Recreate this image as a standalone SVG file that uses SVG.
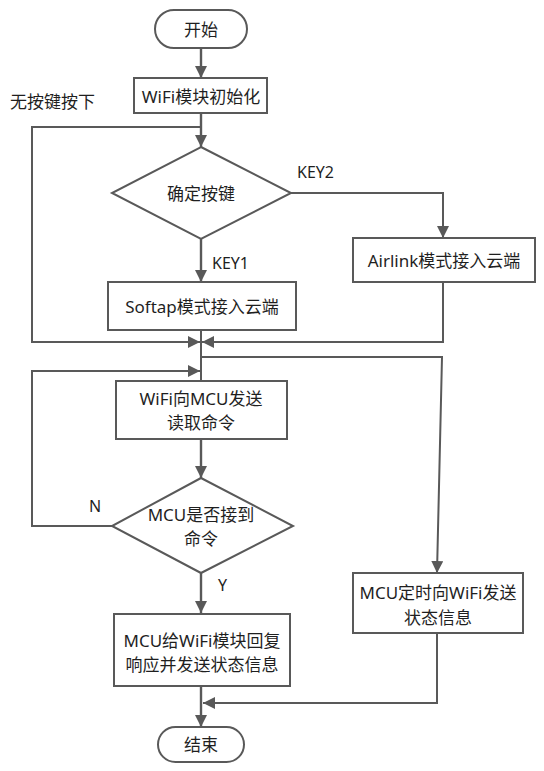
<svg xmlns="http://www.w3.org/2000/svg" width="544" height="771" viewBox="0 0 544 771">
  <style>
    .box { fill: #ffffff; stroke: #595959; stroke-width: 2; }
    .t { font-family: "Noto Sans", "Noto Sans CJK SC", sans-serif; font-size: 17px; fill: #1f1f1f; text-anchor: middle; dominant-baseline: central; }
    .lbl { font-family: "Noto Sans", "Noto Sans CJK SC", sans-serif; font-size: 16px; fill: #1f1f1f; }
    .c { fill: none; stroke: #595959; stroke-width: 2; }
    .ca { fill: none; stroke: #595959; stroke-width: 2.4; marker-end: url(#ah); }
    .cl { fill: none; stroke: #595959; stroke-width: 2; marker-end: url(#ah); }
  </style>
  <defs>
    <marker id="ah" markerUnits="userSpaceOnUse" markerWidth="12" markerHeight="12" viewBox="0 0 12 12" refX="12" refY="6" orient="auto">
      <path d="M0,0 L12,6 L0,12 z" fill="#595959"/>
    </marker>
  </defs>
  <rect width="544" height="771" fill="#ffffff"/>

  <g id="connectors">
    <path class="ca" d="M201,48 V78"/>
    <path class="ca" d="M201,113 V147"/>
    <path class="cl" d="M201,127 H32 V342 H200"/>
    <path class="cl" d="M291,193 H443 V238"/>
    <path class="ca" d="M201,239 V282"/>
    <path class="c" d="M201,330 V381"/>
    <path class="cl" d="M443,282 V342 H202"/>
    <path class="cl" d="M201,357 H442 L437,573"/>
    <path class="ca" d="M201,439 V478"/>
    <path class="cl" d="M112,526 H32 V371 H200"/>
    <path class="ca" d="M201,573 V613"/>
    <path class="ca" d="M201,686 V727"/>
    <path class="cl" d="M437,633 V703 H203"/>
    <text class="lbl" x="10" y="108" style="font-size:17px">无按键按下</text>
    <text class="lbl" x="297" y="178">KEY2</text>
    <text class="lbl" x="212" y="269">KEY1</text>
    <text class="lbl" x="89" y="512">N</text>
    <text class="lbl" x="218" y="591">Y</text>
  </g>

  <g id="start">
    <rect class="box" x="155" y="10" width="92" height="38" rx="19"/>
    <text class="t" x="201" y="29">开始</text>
  </g>
  <g id="init">
    <rect class="box" x="134" y="78" width="133" height="35"/>
    <text class="t" x="201" y="96">WiFi模块初始化</text>
  </g>
  <g id="decide-key">
    <polygon class="box" points="201,147 291,193 201,239 112,193"/>
    <text class="t" x="201" y="193">确定按键</text>
  </g>
  <g id="airlink">
    <rect class="box" x="353" y="238" width="182" height="44"/>
    <text class="t" x="444" y="260">Airlink模式接入云端</text>
  </g>
  <g id="softap">
    <rect class="box" x="108" y="282" width="188" height="48"/>
    <text class="t" x="202" y="306">Softap模式接入云端</text>
  </g>
  <g id="send-read">
    <rect class="box" x="116" y="381" width="171" height="58"/>
    <text class="t" x="201" y="398">WiFi向MCU发送</text>
    <text class="t" x="201" y="422">读取命令</text>
  </g>
  <g id="decide-cmd">
    <polygon class="box" points="201,478 293,526 201,573 112,526"/>
    <text class="t" x="201" y="514">MCU是否接到</text>
    <text class="t" x="201" y="538">命令</text>
  </g>
  <g id="reply">
    <rect class="box" x="114" y="614" width="176" height="72"/>
    <text class="t" x="202" y="640">MCU给WiFi模块回复</text>
    <text class="t" x="202" y="664">响应并发送状态信息</text>
  </g>
  <g id="timer">
    <rect class="box" x="353" y="573" width="170" height="60"/>
    <text class="t" x="438" y="592">MCU定时向WiFi发送</text>
    <text class="t" x="438" y="617">状态信息</text>
  </g>
  <g id="end">
    <rect class="box" x="158" y="727" width="86" height="35" rx="17.5"/>
    <text class="t" x="201" y="744">结束</text>
  </g>
</svg>
